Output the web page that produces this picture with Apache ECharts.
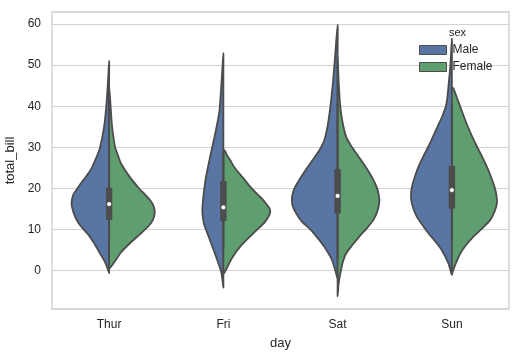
<!DOCTYPE html>
<html><head><meta charset="utf-8">
<script src="https://cdn.jsdelivr.net/npm/echarts@6/dist/echarts.min.js"></script>
<style>html,body{margin:0;padding:0;background:#fff}#c{width:525px;height:361px}</style>
</head><body><div id="c"></div><script>
const days = ['Thur', 'Fri', 'Sat', 'Sun'];
const sexes = ['Male', 'Female'];
const yTicks = [0, 10, 20, 30, 40, 50, 60];

// Violin half outlines: [total_bill, half-width in % of the category band]
const maleThur = [[51,0],[46,1.0],[40.3,2.4],[35,4.4],[29.8,8.1],[27.3,11.5],[24.9,15.4],[22.8,20.5],[20.9,25.6],[19.5,29],[18.4,31.5],[16.4,32.9],[14.4,31.5],[12.7,29],[11.1,25.6],[9.7,21.2],[8.3,16.9],[6.6,13],[5,9.6],[3.5,6.5],[2.2,3.8],[0.5,1.3],[-0.6,0]];
const femaleThur = [[45,0],[40,1.3],[35,2.6],[30,5.3],[28,7.8],[26,10.5],[23,17.5],[20,26.3],[18.5,31.5],[17,36.3],[15.5,39.2],[14,39.9],[12.5,38.5],[11,35],[8.7,26.3],[6.5,17.5],[4.5,10.5],[2.2,4.8],[0.5,0]];
const maleFri = [[52.9,0],[49,0.9],[45,1.8],[41.5,2.7],[38.7,3.5],[34.5,6.3],[30.6,9.3],[26.5,12.5],[22.5,15.4],[18,17.5],[14.4,18.4],[11.5,17.1],[9.5,14.5],[7,11.2],[4.6,7.9],[2,4.6],[-0.2,2.0],[-2.2,0.8],[-4.1,0]];
const femaleFri = [[29.4,0],[29.1,1.5],[28.2,2.9],[26.9,5.9],[24.9,10.2],[22.5,17.5],[20,24.8],[17.6,33.5],[16.3,37.5],[15.2,40.3],[14.4,41],[13.6,40.3],[11.9,36.5],[9.5,27.7],[6.3,16],[3,7.3],[-0.2,1.5],[-0.8,0]];
const maleSat = [[59.8,0],[52.9,2.0],[44.8,4.4],[36.7,7.9],[31.8,11.6],[29.3,16],[26.9,21.9],[24.5,28],[22.1,33.5],[20,37.8],[18,39.9],[16,39.6],[14,36.4],[12,31.5],[9.9,23.3],[7.8,17],[5.8,11.6],[2.6,4.9],[-0.6,1.4],[-2,0]];
const femaleSat = [[52,0],[46,0.9],[40.7,2.1],[36.7,3.9],[32.6,7.4],[30.5,11.5],[28.6,16.1],[26.5,21.5],[24.5,26.3],[22.5,30.5],[20.4,34.1],[18.5,36],[16.8,36.5],[14.5,34.8],[12.3,31.2],[10.3,25.5],[8.3,19],[6.2,12.8],[4.2,7.4],[2.2,4.6],[0.2,3.0],[-3.1,0.9],[-6.2,0]];
const maleSun = [[56.5,0],[50,1.3],[44.8,3.0],[42,4.0],[39.9,5.3],[37.5,8.5],[35,12.6],[32.6,16.5],[30.2,20.5],[27.8,25],[25.3,29.2],[22.8,32.5],[20.4,35],[18.8,35.7],[17.2,35.6],[15.2,33.8],[13.1,30.6],[11.1,25.8],[9.1,20.5],[7,14.2],[5,8.8],[1.8,3.0],[-1,0]];
const femaleSun = [[44.6,0],[44.2,1.5],[42,4.5],[39.9,7.3],[37.5,10.5],[35,14],[32.6,17.8],[30.2,21.9],[27.8,26.3],[25.3,30.6],[22.8,34.3],[20.4,37.3],[18.4,39],[16.4,39.4],[14.4,37.4],[12.3,33.5],[10.3,26.5],[8.3,18.9],[6.2,12.3],[4.2,7.3],[1,2.3],[-0.8,0]];

// Inner box (both sexes combined), per day
const whiskerLow = [7.5, 5.8, 3.1, 7.3];
const q1 = [12.4, 12.1, 13.9, 15.1];
const median = [16.2, 15.4, 18.2, 19.6];
const q3 = [20.2, 21.8, 24.7, 25.5];
const whiskerHigh = [31.0, 29.0, 40.5, 40.5];

const outlines = [
  [maleThur, maleFri, maleSat, maleSun],
  [femaleThur, femaleFri, femaleSat, femaleSun]
];
const colors = ['#5875A4', '#5F9E6E'];
const gray = '#4c4c4c';

function halfRenderer(sexIdx) {
  return function (params, api) {
    const d = api.value(0);
    const outline = outlines[sexIdx][d];
    const band = api.size([1, 0])[0];
    const sign = sexIdx === 0 ? -1 : 1;
    const pts = [];
    outline.forEach(function (o) {
      const p = api.coord([d, o[0]]);
      pts.push([p[0] + sign * o[1] / 100 * band, p[1]]);
    });
    for (let i = outline.length - 2; i >= 1; i--) {
      const p = api.coord([d, outline[i][0]]);
      pts.push([p[0], p[1]]);
    }
    return {
      type: 'polygon',
      shape: { points: pts, smooth: 0.25 },
      style: { fill: colors[sexIdx], stroke: gray, lineWidth: 1.8, lineJoin: 'round' }
    };
  };
}

function boxRenderer(params, api) {
  const d = api.value(0);
  const x = api.coord([d, 0])[0];
  const yLo = api.coord([d, api.value(1)])[1];
  const yQ1 = api.coord([d, api.value(2)])[1];
  const yMed = api.coord([d, api.value(3)])[1];
  const yQ3 = api.coord([d, api.value(4)])[1];
  const yHi = api.coord([d, api.value(5)])[1];
  return {
    type: 'group',
    children: [
      { type: 'line', shape: { x1: x, y1: yLo, x2: x, y2: yHi }, style: { stroke: gray, lineWidth: 2 } },
      { type: 'rect', shape: { x: x - 3.2, y: yQ3, width: 6.4, height: yQ1 - yQ3 }, style: { fill: gray } },
      { type: 'circle', shape: { cx: x, cy: yMed, r: 2.4 }, style: { fill: '#ffffff', stroke: gray, lineWidth: 0.6 } }
    ]
  };
}

const boxData = days.map(function (_, i) {
  return [i, whiskerLow[i], q1[i], median[i], q3[i], whiskerHigh[i]];
});

const chart = echarts.init(document.getElementById('c'), null, { renderer: 'canvas' });
const txt = '#262626';
const font = 'Liberation Sans, Arial, sans-serif';
chart.setOption({
  animation: false,
  textStyle: { fontFamily: font },
  grid: { left: 52, right: 16, top: 12, bottom: 52, show: true, borderColor: '#cccccc', borderWidth: 1.3, backgroundColor: '#ffffff', containLabel: false, outerBoundsMode: 'none' },
  title: { text: 'sex', left: 444, top: 22, textStyle: { fontSize: 11, fontWeight: 'normal', color: txt, fontFamily: font } },
  legend: {
    data: sexes,
    orient: 'vertical',
    left: 414, top: 39,
    itemWidth: 27, itemHeight: 9, itemGap: 5,
    icon: 'rect',
    z: 1,
    itemStyle: { borderColor: gray, borderWidth: 1 },
    textStyle: { fontSize: 12, color: txt, fontFamily: font, padding: [0, 0, 0, 1] }
  },
  xAxis: {
    type: 'category', data: days, boundaryGap: true,
    name: 'day', nameLocation: 'middle', nameGap: 28,
    nameTextStyle: { fontSize: 13, color: txt, fontFamily: font },
    axisLine: { show: false }, axisTick: { show: false },
    axisLabel: { fontSize: 12, color: txt, margin: 10, fontFamily: font },
    splitLine: { show: false }
  },
  yAxis: {
    type: 'value', min: -9.3, max: 62.9,
    name: 'total_bill', nameLocation: 'middle', nameGap: 32,
    nameTextStyle: { fontSize: 13, color: txt, fontFamily: font },
    axisLine: { show: false },
    axisTick: { show: false, customValues: yTicks },
    axisLabel: { fontSize: 12, color: txt, margin: 11, fontFamily: font, customValues: yTicks },
    splitLine: { show: true, lineStyle: { color: '#d3d3d3', width: 1.2 } }
  },
  series: [
    { name: 'Male', type: 'custom', z: 3, renderItem: halfRenderer(0), data: days.map(function (_, i) { return [i]; }),
      itemStyle: { color: colors[0], borderColor: gray }, encode: { x: 0 } },
    { name: 'Female', type: 'custom', z: 3, renderItem: halfRenderer(1), data: days.map(function (_, i) { return [i]; }),
      itemStyle: { color: colors[1], borderColor: gray }, encode: { x: 0 } },
    { name: 'box', type: 'custom', z: 4, renderItem: boxRenderer, data: boxData, encode: { x: 0, y: [1, 5] } }
  ]
});
</script></body></html>
